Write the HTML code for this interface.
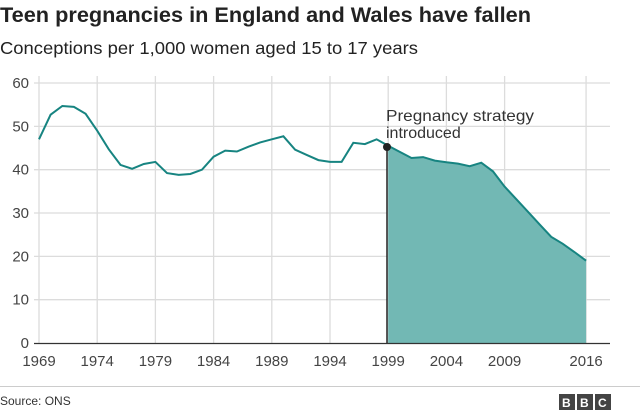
<!DOCTYPE html><html><head><meta charset="utf-8"><style>
body{margin:0;background:#fff;width:640px;height:413px;overflow:hidden;font-family:"Liberation Sans",sans-serif}
</style></head><body>
<svg id="s" width="640" height="413" xmlns="http://www.w3.org/2000/svg" font-family="Liberation Sans, sans-serif">
<text x="0" y="22" font-size="21.5" font-weight="bold" fill="#222" textLength="531" lengthAdjust="spacingAndGlyphs">Teen pregnancies in England and Wales have fallen</text>
<text x="0" y="54" font-size="17.5" fill="#222" textLength="418" lengthAdjust="spacingAndGlyphs">Conceptions per 1,000 women aged 15 to 17 years</text>
<g id="grid" stroke="#dcdcdc" stroke-width="1.3"></g>
<g id="lab" font-size="15" fill="#444"></g>
<path id="area" fill="#72b8b4"/>
<path id="line" fill="none" stroke="#178481" stroke-width="2"/>
<line x1="387" x2="387" y1="147" y2="344" stroke="#222" stroke-width="1.5"/>
<circle cx="387" cy="147" r="4" fill="#222"/>
<text x="386" y="121" font-size="16" fill="#333" textLength="148" lengthAdjust="spacingAndGlyphs">Pregnancy strategy</text>
<text x="386" y="138" font-size="16" fill="#333">introduced</text>
<line x1="34" x2="610" y1="343.5" y2="343.5" stroke="#333" stroke-width="1.2"/>
<line x1="0" x2="640" y1="386.5" y2="386.5" stroke="#ccc"/>
<text x="0" y="405" font-size="12" fill="#333">Source: ONS</text>
<g font-size="12" font-weight="bold" fill="#fff">
<rect x="559" y="394" width="16" height="16" fill="#444"/><text x="562" y="407">B</text>
<rect x="577" y="394" width="16" height="16" fill="#444"/><text x="580" y="407">B</text>
<rect x="595" y="394" width="16" height="16" fill="#444"/><text x="598" y="407">C</text>
</g>
</svg>
<script>
var d=[47,52.7,54.7,54.5,52.9,49,44.7,41.1,40.2,41.3,41.8,39.2,38.8,39,40,43,44.4,44.2,45.3,46.3,47,47.7,44.6,43.4,42.2,41.8,41.8,46.2,45.9,47,45.5,44.1,42.7,42.9,42.1,41.7,41.4,40.8,41.6,39.6,36.1,33.2,30.3,27.4,24.5,22.9,21.0,19];
function X(y){return 39+(y-1969)*11.64}function Y(v){return 343-v*4.333}
var g='',l='';
[1969,1974,1979,1984,1989,1994,1999,2004,2009,2016].forEach(function(y){var x=X(y);g+='<line x1="'+x+'" x2="'+x+'" y1="76" y2="343"/>';l+='<text x="'+x+'" y="366" text-anchor="middle">'+y+'</text>';});
[10,20,30,40,50,60].forEach(function(v){g+='<line x1="34" x2="610" y1="'+Y(v)+'" y2="'+Y(v)+'"/>';});
[0,10,20,30,40,50,60].forEach(function(v){l+='<text x="29" y="'+(Y(v)+5)+'" text-anchor="end">'+v+'</text>';});
document.getElementById('grid').innerHTML=g;document.getElementById('lab').innerHTML=l;
var p='',a='M'+X(1999)+' 343';
d.forEach(function(v,i){var y=1969+i;p+=(i?'L':'M')+X(y).toFixed(1)+' '+Y(v).toFixed(1);if(y>=1999)a+='L'+X(y).toFixed(1)+' '+Y(v).toFixed(1);});
a+='L'+X(2016)+' 343Z';
document.getElementById('line').setAttribute('d',p);document.getElementById('area').setAttribute('d',a);
</script>
</body></html>
